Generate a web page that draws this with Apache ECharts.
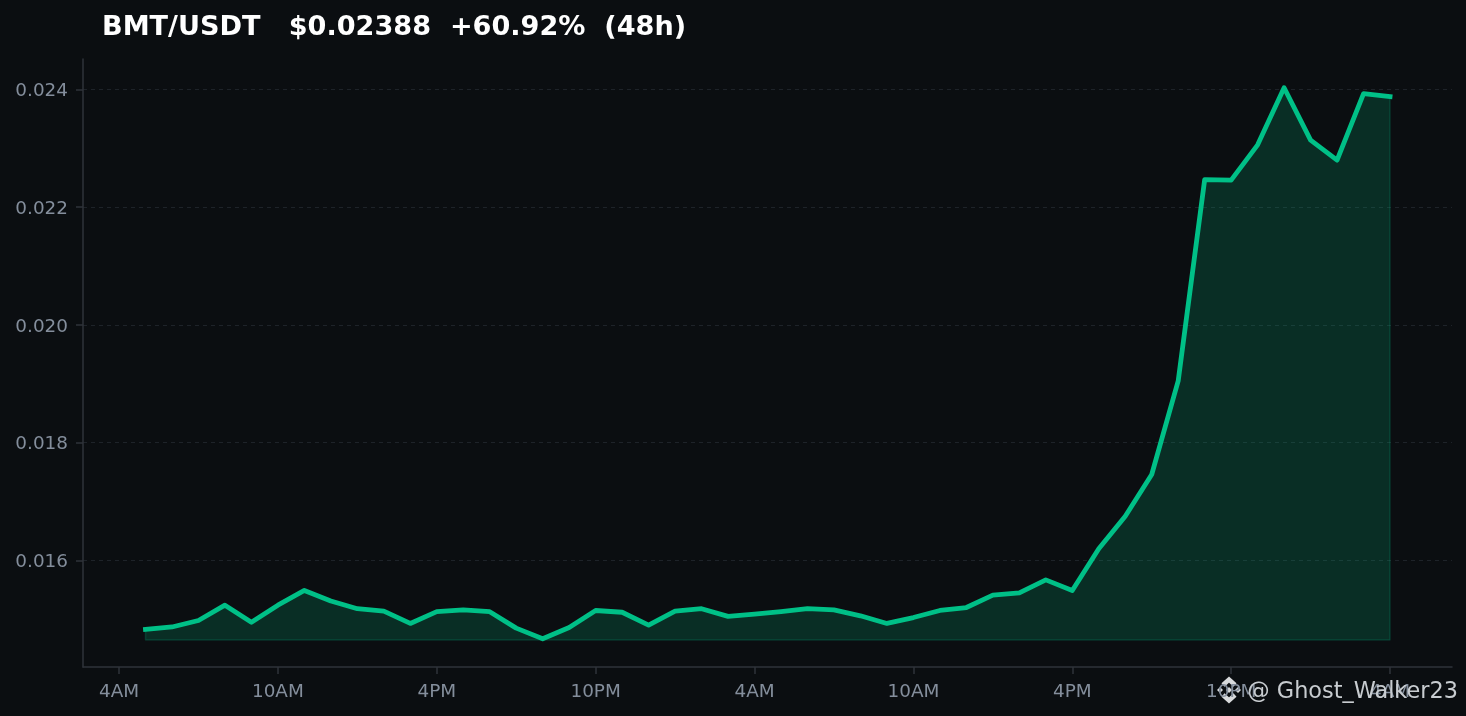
<!DOCTYPE html>
<html><head><meta charset="utf-8">
<style>html,body{margin:0;padding:0;background:#0b0e11}#c{width:1466px;height:716px}</style>
<script src="https://cdn.jsdelivr.net/npm/echarts@6/dist/echarts.min.js"></script>
</head><body><div id="c"></div>
<script>
const hours=[1,2,3,4,5,6,7,8,9,10,11,12,13,14,15,16,17,18,19,20,21,22,23,24,25,26,27,28,29,30,31,32,33,34,35,36,37,38,39,40,41,42,43,44,45,46,47,48];
const prices=[0.01483,0.01487,0.01498,0.01524,0.01495,0.01524,0.01549,0.01531,0.01518,0.01514,0.01493,0.01513,0.01516,0.01513,0.01485,0.01467,0.01486,0.01515,0.01512,0.01490,0.01514,0.01518,0.01505,0.01509,0.01513,0.01518,0.01516,0.01506,0.01493,0.01503,0.01515,0.01520,0.01541,0.01545,0.01567,0.01549,0.01620,0.01675,0.01746,0.01905,0.02247,0.02246,0.02306,0.02403,0.02314,0.02280,0.02393,0.02388];
const baseValue=0.01465;
const xTickHours=[0,6,12,18,24,30,36,42,48];
const xTickLabels=['4AM','10AM','4PM','10PM','4AM','10AM','4PM','10PM','4AM'];
const yTicks=[0.016,0.018,0.020,0.022,0.024];
const titleText='BMT/USDT   $0.02388  +60.92%  (48h)';
const watermarkText='@ Ghost_Walker23';
const font='"DejaVu Sans"';
const outline=[[hours[0],prices[0]],[hours[0],baseValue],[hours[hours.length-1],baseValue],[hours[hours.length-1],prices[prices.length-1]]];
const chart=echarts.init(document.getElementById('c'),null,{renderer:'canvas'});
chart.setOption({
 backgroundColor:'#0b0e11',animation:false,
 title:{text:titleText,left:97,top:9,textStyle:{color:'#ffffff',fontFamily:font,fontWeight:'bold',fontSize:27.1}},
 grid:{left:83,right:14,top:59,bottom:49,containLabel:false},
 xAxis:{type:'value',min:-1.36,max:50.34,
  axisLine:{onZero:false,lineStyle:{color:'#2f333a',width:1.5}},
  axisTick:{show:true,customValues:xTickHours,length:7,lineStyle:{color:'#2f333a',width:1.5}},
  axisLabel:{customValues:xTickHours,margin:16,color:'#848e9c',fontFamily:font,fontSize:18.4,formatter:v=>xTickLabels[xTickHours.indexOf(v)],hideOverlap:false,showMinLabel:true,showMaxLabel:true},
  splitLine:{show:false}},
 yAxis:{type:'value',min:0.01419,max:0.024518,
  axisLine:{show:true,onZero:false,lineStyle:{color:'#2f333a',width:1.5}},
  axisTick:{show:true,customValues:yTicks,length:7,lineStyle:{color:'#2f333a',width:1.5}},
  axisLabel:{customValues:yTicks,margin:15,color:'#848e9c',fontFamily:font,fontSize:18.4,formatter:v=>'{v|'+v.toFixed(3)+'}',
   rich:{v:{color:'#848e9c',fontFamily:font,fontSize:18.4,padding:[4,0,0,0]}}},
  splitLine:{show:true,lineStyle:{color:'#1e2329',type:[4,4],width:1}}},
 series:[
  {type:'line',data:hours.map((h,i)=>[h,prices[i]]),symbol:'none',smooth:false,z:3,
   lineStyle:{color:'#00c087',width:4.8,cap:'square',join:'round'},
   areaStyle:{color:'#00c087',opacity:0.18,origin:baseValue}},
  {type:'line',data:outline,symbol:'none',silent:true,z:2,lineStyle:{color:'#00c087',opacity:0.2,width:1.5}}
 ],
 graphic:[{type:'text',right:8,top:681,z:10,style:{text:watermarkText,fill:'#c8ccd0',font:'22.4px "DejaVu Sans"'}},
  {type:'group',left:1217,top:677,z:10,children:[
   {type:'polyline',shape:{points:[[6,8],[12,2.5],[18,8]]},style:{fill:'none',stroke:'#d8dadc',lineWidth:4.6}},
   {type:'polyline',shape:{points:[[6,18],[12,23.5],[18,18]]},style:{fill:'none',stroke:'#d8dadc',lineWidth:4.6}},
   {type:'polygon',shape:{points:[[3,10],[6,13],[3,16],[0,13]]},style:{fill:'#d8dadc'}},
   {type:'polygon',shape:{points:[[21,10],[24,13],[21,16],[18,13]]},style:{fill:'#d8dadc'}},
   {type:'polygon',shape:{points:[[12,10],[15,13],[12,16],[9,13]]},style:{fill:'#d8dadc'}}]}]
});
</script></body></html>
